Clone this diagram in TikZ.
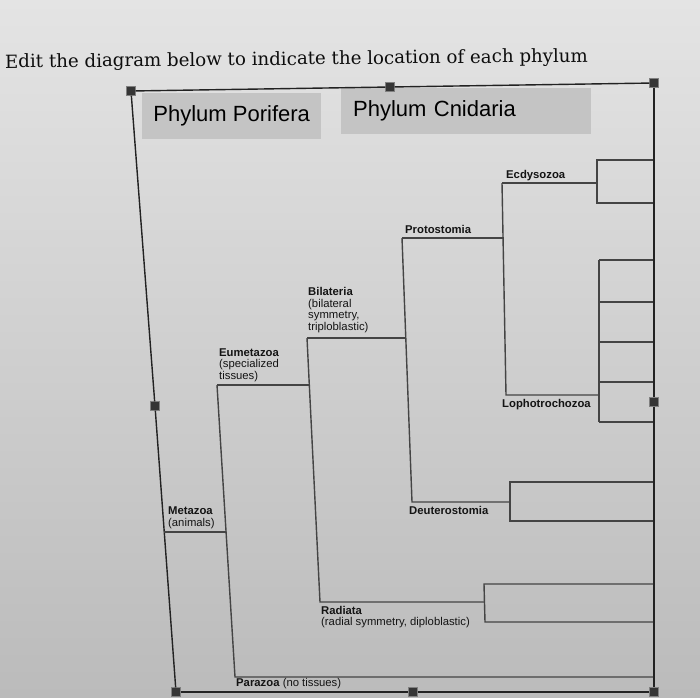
\documentclass[tikz,border=0pt]{standalone}
\usepackage{fontspec}
\setmainfont{DejaVu Serif}
\setsansfont{Liberation Sans}
\usetikzlibrary{positioning}

\definecolor{screentop}{HTML}{E4E4E4}
\definecolor{screenbot}{HTML}{BBBBBB}
\definecolor{boxgray}{HTML}{C4C4C4}
\definecolor{treegray}{HTML}{444444}
\definecolor{framedark}{HTML}{222222}
\definecolor{handlegray}{HTML}{353535}

\tikzset{
  clade/.style={draw=treegray, line width=1.4pt},
  frameline/.style={draw=framedark, line width=1.4pt},
  handle/.style={fill=handlegray, draw=gray, line width=0.6pt,
    minimum size=8.5pt, inner sep=0pt},
  taxon/.style={font=\sffamily\fontsize{11.3}{11.7}\selectfont,
    anchor=west, inner sep=0pt, align=left, text=black!92},
  phylumbox/.style={fill=boxgray, font=\sffamily\fontsize{22}{24}\selectfont,
    anchor=north west, align=left, minimum height=46pt, inner ysep=0pt}
}

\begin{document}
\begin{tikzpicture}[x=1pt, y=-1pt]
  \useasboundingbox (0,0) rectangle (700,697);
  \shade[top color=screentop, bottom color=screenbot] (0,0) rectangle (700,697);

  \node[anchor=base west, inner sep=0pt, rotate=0.6, text=black!95,
    font=\fontsize{18.2}{20}\selectfont] (title) at (5,68)
    {Edit the diagram below to indicate the location of each phylum};

  % answer boxes
  \node[phylumbox, minimum width=179pt, inner xsep=10pt] (porifera) at (142,93)
    {Phylum Porifera};
  \node[phylumbox, text width=226pt, inner xsep=12pt] (cnidaria) at (341,88)
    {Phylum Cnidaria};

  % selection frame
  \node[handle] (hTL) at (131,91) {};
  \node[handle] (hTM) at (390,87) {};
  \node[handle] (hTR) at (654,83) {};
  \node[handle] (hML) at (155,406) {};
  \node[handle] (hMR) at (654,402) {};
  \node[handle] (hBL) at (176,692) {};
  \node[handle] (hBM) at (413,692) {};
  \node[handle] (hBR) at (654,692) {};
  \draw[frameline] (hTL) -- (hTM) -- (hTR);
  \draw[frameline] (hTL) -- (hML) -- (hBL);
  \draw[frameline] (hBL) -- (hBM) -- (hBR);
  \draw[frameline] (hTR) -- (hMR) -- (hBR);

  % tree
  \coordinate (eumetazoa) at (217,385);
  \coordinate (parazoa) at (235,677);
  \coordinate (bilateria) at (307,338);
  \coordinate (radiata) at (320,602);
  \coordinate (protostomia) at (402,238);
  \coordinate (deuterostomia) at (412,502);
  \coordinate (ecdysozoa) at (502,183);
  \coordinate (lophotrochozoa) at (506,395);

  \draw[clade] (164,532) -- (226,532);
  \draw[clade] (eumetazoa) -- (parazoa) -- (653,677);
  \draw[clade] (eumetazoa) -- (309,385);
  \draw[clade] (bilateria) -- (radiata) -- (484,602);
  \draw[clade] (bilateria) -- (405,338);
  \draw[clade] (protostomia) -- (deuterostomia) -- (510,502);
  \draw[clade] (protostomia) -- (504,238);
  \draw[clade] (ecdysozoa) -- (lophotrochozoa) -- (599,395);
  \draw[clade] (ecdysozoa) -- (597,183);

  % open brackets
  \draw[clade] (653,160) -- (597,160) -- (597,203) -- (653,203);
  \draw[clade] (599,260) -- (599,422);
  \foreach \y in {260,302,342,382,422}
    \draw[clade] (599,\y) -- (653,\y);
  \draw[clade] (653,482) -- (510,482) -- (510,521) -- (653,521);
  \draw[clade] (653,584) -- (484,584) -- (485,622) -- (653,622);

  % labels
  \node[taxon] (ecdysozoaL) at (506,176) {\textbf{Ecdysozoa}};
  \node[taxon] (protostomiaL) at (405,229) {\textbf{Protostomia}};
  \node[taxon] (lophotrochozoaL) at (502,405) {\textbf{Lophotrochozoa}};
  \node[taxon] (bilateriaL) at (308,310)
    {\textbf{Bilateria}\\(bilateral\\symmetry,\\triploblastic)};
  \node[taxon] (eumetazoaL) at (219,365)
    {\textbf{Eumetazoa}\\(specialized\\tissues)};
  \node[taxon] (metazoaL) at (168,518) {\textbf{Metazoa}\\(animals)};
  \node[taxon] (deuterostomiaL) at (409,510) {\textbf{Deuterostomia}};
  \node[taxon] (radiataL) at (321,617)
    {\textbf{Radiata}\\(radial symmetry, diploblastic)};
  \node[taxon] (parazoaL) at (236,684) {\textbf{Parazoa} (no tissues)};
\end{tikzpicture}
\end{document}
